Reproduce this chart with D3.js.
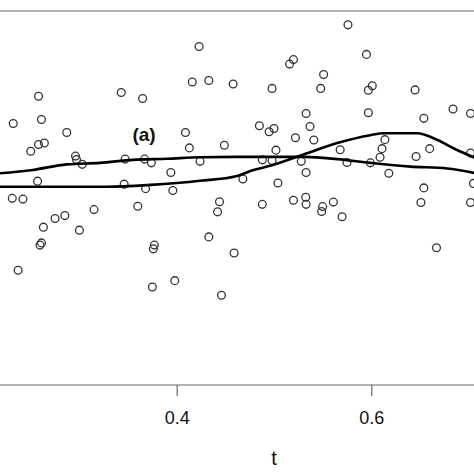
<!DOCTYPE html>
<html>
<head>
<meta charset="utf-8">
<script src="https://cdnjs.cloudflare.com/ajax/libs/d3/7.8.5/d3.min.js"></script>
<style>
  body { margin: 0; background: #fff; }
  svg { display: block; font-family: "Liberation Sans", Arial, sans-serif; }
</style>
</head>
<body>
<svg id="chart" width="474" height="474"></svg>
<script>
// observed points (t, y)
let pointT = [0.423, 0.416, 0.433, 0.458, 0.258, 0.343, 0.365, 0.232, 0.261, 0.287,
    0.409, 0.250, 0.258, 0.264, 0.413, 0.449, 0.296, 0.297, 0.303, 0.347,
    0.367, 0.374, 0.424, 0.394, 0.257, 0.346, 0.368, 0.396, 0.231, 0.242,
    0.444, 0.442, 0.315, 0.360, 0.275, 0.285, 0.263, 0.300, 0.433, 0.2595,
    0.261, 0.377, 0.376, 0.237, 0.375, 0.398, 0.459, 0.446, 0.468, 0.488,
    0.498, 0.504, 0.528, 0.533, 0.488, 0.520, 0.5326, 0.533, 0.576, 0.595,
    0.516, 0.520, 0.551, 0.498, 0.548, 0.597, 0.601, 0.645, 0.533, 0.597,
    0.684, 0.702, 0.654, 0.485, 0.495, 0.500, 0.537, 0.522, 0.541, 0.614,
    0.502, 0.568, 0.611, 0.609, 0.575, 0.599, 0.646, 0.660, 0.702, 0.618,
    0.654, 0.705, 0.550, 0.549, 0.561, 0.570, 0.651, 0.702, 0.667];
let pointY = [9.05, 8.10, 8.14, 8.05, 7.72, 7.82, 7.66, 6.99, 7.10, 6.75,
    6.75, 6.25, 6.43, 6.47, 6.34, 6.41, 6.12, 6.03, 5.90, 6.04,
    6.04, 5.94, 5.98, 5.68, 5.45, 5.37, 5.25, 5.20, 4.99, 4.97,
    4.90, 4.63, 4.69, 4.78, 4.45, 4.53, 4.22, 4.14, 3.96, 3.74,
    3.80, 3.74, 3.64, 3.07, 2.62, 2.79, 3.53, 2.40, 5.51, 6.02,
    6.00, 5.40, 5.98, 5.68, 4.83, 4.94, 5.02, 4.83, 9.63, 8.84,
    8.58, 8.70, 8.30, 7.93, 7.93, 7.88, 8.00, 7.89, 7.26, 7.28,
    7.38, 7.26, 7.13, 6.93, 6.77, 6.86, 6.91, 6.61, 6.55, 6.56,
    6.28, 6.29, 6.32, 6.09, 5.95, 5.94, 6.11, 6.32, 6.20, 5.66,
    5.27, 5.39, 4.77, 4.64, 4.89, 4.50, 4.88, 4.88, 3.67];

// fitted curve (a)
let curveAT = [0.218, 0.252, 0.287, 0.321, 0.355, 0.390, 0.424, 0.462, 0.531, 0.565, 0.599, 0.640, 0.678, 0.706];
let curveAY = [5.66, 5.75, 5.90, 5.94, 6.02, 6.05, 6.09, 6.10, 6.10, 6.04, 5.94, 5.84, 5.79, 5.67];

// second fitted curve with the bump
let curveBT = [0.218, 0.328, 0.373, 0.424, 0.462, 0.479, 0.496, 0.531, 0.565, 0.599, 0.613, 0.647, 0.668, 0.686, 0.706];
let curveBY = [5.30, 5.30, 5.35, 5.46, 5.59, 5.75, 5.86, 6.17, 6.47, 6.68, 6.73, 6.73, 6.55, 6.31, 6.08];

let xTicks = [0.4, 0.6];
let xLabel = "t";
let curveLabel = "(a)";

const width = 474, height = 474;
var svg = d3.select("#chart");

let xScale = d3.scaleLinear().domain([0.4, 0.6]).range([176.7, 371.3]);
let yScale = d3.scaleLinear().domain([0, 10]).range([385, 11]);

// top border of the plot box
svg.append("line")
    .attr("x1", 0).attr("x2", width)
    .attr("y1", yScale(10)).attr("y2", yScale(10))
    .attr("stroke", "#666").attr("stroke-width", 1.2);

// bottom axis
var xAxis = d3.axisBottom(xScale)
    .tickValues(xTicks)
    .tickFormat(d3.format(".1f"))
    .tickSize(11)
    .tickPadding(15);

let axisG = svg.append("g")
    .attr("transform", "translate(0," + yScale(0) + ")")
    .call(xAxis);
axisG.select(".domain").remove();
axisG.selectAll(".tick line").attr("stroke", "#666").attr("stroke-width", 1.2);
axisG.selectAll(".tick text")
    .attr("fill", "#111")
    .style("font-size", "18px")
    .style("font-family", "'Liberation Sans', Arial, sans-serif");

svg.append("line")
    .attr("x1", 0).attr("x2", width)
    .attr("y1", yScale(0)).attr("y2", yScale(0))
    .attr("stroke", "#666").attr("stroke-width", 1.2);

svg.append("text")
    .attr("x", 274).attr("y", 465)
    .attr("text-anchor", "middle")
    .attr("fill", "#111")
    .style("font-size", "20px")
    .text(xLabel);

// points
let pts = pointT.map((t, i) => ({ t: t, y: pointY[i] }));
svg.selectAll(".circ")
    .data(pts)
    .enter()
    .append("circle")
    .attr("class", "circ")
    .attr("cx", (d) => xScale(d.t))
    .attr("cy", (d) => yScale(d.y))
    .attr("r", 3.9)
    .attr("fill", "none")
    .attr("stroke", "#333")
    .attr("stroke-width", 1.3);

// curves
var line = d3.line()
    .x((d) => xScale(d[0]))
    .y((d) => yScale(d[1]))
    .curve(d3.curveMonotoneX);

svg.append("path")
    .datum(curveAT.map((t, i) => [t, curveAY[i]]))
    .attr("d", line)
    .attr("fill", "none")
    .attr("stroke", "#000")
    .attr("stroke-width", 2.6);

svg.append("path")
    .datum(curveBT.map((t, i) => [t, curveBY[i]]))
    .attr("d", line)
    .attr("fill", "none")
    .attr("stroke", "#000")
    .attr("stroke-width", 2.6);

svg.append("text")
    .attr("x", 144).attr("y", 141)
    .attr("text-anchor", "middle")
    .attr("fill", "#111")
    .style("font-size", "19px")
    .style("font-weight", "bold")
    .text(curveLabel);
</script>
</body>
</html>
